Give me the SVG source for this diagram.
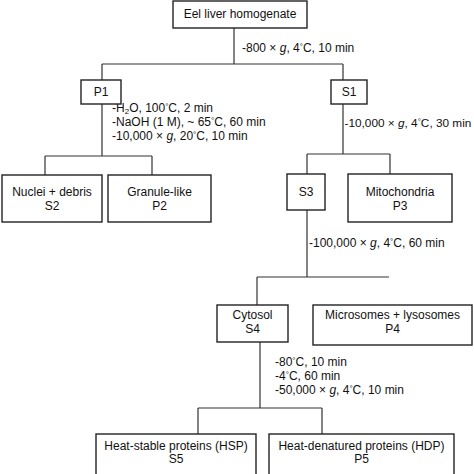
<svg xmlns="http://www.w3.org/2000/svg" width="474" height="474" viewBox="0 0 474 474">
<style>
.box{fill:#fff;stroke:#222;stroke-width:1.4}
.t{font-family:"Liberation Sans",Arial,sans-serif;font-size:12px;fill:#111;text-anchor:middle}
.l{font-family:"Liberation Sans",Arial,sans-serif;font-size:12px;fill:#111}
.c{stroke:#333;stroke-width:1.2;fill:none}
.d{font-size:8px}
.g{font-style:italic}
</style>
<rect width="474" height="474" fill="#fff"/>
<g id="connectors" class="c">
<path d="M234,28V64M102,64H343M102,64V80M343,64V80"/>
<path d="M102,104V156M45,156H152M45,156V175M152,156V175"/>
<path d="M343,104V154M307,154H390M307,154V174M390,154V174"/>
<path d="M307,210V277M257,277H389M257,277V305"/>
<path d="M260,342V408M198,408H322M198,408V434M322,408V434"/>
</g>
<g id="labels" class="l">
<text x="242" y="52">-800 × <tspan class="g">g</tspan>, 4<tspan class="d" dy="-3">°</tspan><tspan dy="3">C, 10 min</tspan></text>
<text x="112" y="112">-H<tspan font-size="8" dy="2">2</tspan><tspan dy="-2">O, 100</tspan><tspan class="d" dy="-3">°</tspan><tspan dy="3">C, 2 min</tspan></text>
<text x="112" y="126">-NaOH (1 M), ~ 65<tspan class="d" dy="-3">°</tspan><tspan dy="3">C, 60 min</tspan></text>
<text x="112" y="140">-10,000 × <tspan class="g">g</tspan>, 20<tspan class="d" dy="-3">°</tspan><tspan dy="3">C, 10 min</tspan></text>
<text x="344.5" y="127" font-size="11.8">-10,000 × <tspan class="g">g</tspan>, 4<tspan class="d" dy="-3">°</tspan><tspan dy="3">C, 30 min</tspan></text>
<text x="309" y="247">-100,000 × <tspan class="g">g</tspan>, 4<tspan class="d" dy="-3">°</tspan><tspan dy="3">C, 60 min</tspan></text>
<text x="275" y="366">-80<tspan class="d" dy="-3">°</tspan><tspan dy="3">C, 10 min</tspan></text>
<text x="275" y="380">-4<tspan class="d" dy="-3">°</tspan><tspan dy="3">C, 60 min</tspan></text>
<text x="275" y="394">-50,000 × <tspan class="g">g</tspan>, 4<tspan class="d" dy="-3">°</tspan><tspan dy="3">C, 10 min</tspan></text>
</g>
<g id="eel"><rect class="box" x="173" y="1" width="134" height="27"/><text class="t" x="240" y="18">Eel liver homogenate</text></g>
<g id="p1"><rect class="box" x="81" y="80" width="40" height="24"/><text class="t" x="101" y="96">P1</text></g>
<g id="s1"><rect class="box" x="331" y="80" width="36" height="24"/><text class="t" x="349" y="96">S1</text></g>
<g id="s2"><rect class="box" x="2" y="175" width="100" height="47"/><text class="t" x="52" y="196">Nuclei + debris</text><text class="t" x="52" y="210">S2</text></g>
<g id="p2"><rect class="box" x="108" y="175" width="103" height="47"/><text class="t" x="159.5" y="196">Granule-like</text><text class="t" x="159.5" y="210">P2</text></g>
<g id="s3"><rect class="box" x="287" y="174" width="38" height="36"/><text class="t" x="306" y="196">S3</text></g>
<g id="p3"><rect class="box" x="348" y="174" width="104" height="48"/><text class="t" x="400" y="196">Mitochondria</text><text class="t" x="400" y="210">P3</text></g>
<g id="s4"><rect class="box" x="217" y="305" width="71" height="37"/><text class="t" x="252.5" y="319">Cytosol</text><text class="t" x="252.5" y="333">S4</text></g>
<g id="p4"><rect class="box" x="313" y="305" width="159" height="40"/><text class="t" x="392.5" y="319">Microsomes + lysosomes</text><text class="t" x="392.5" y="333">P4</text></g>
<g id="s5"><rect class="box" x="96" y="434" width="160" height="50"/><text class="t" x="176" y="450">Heat-stable proteins (HSP)</text><text class="t" x="176" y="463">S5</text></g>
<g id="p5"><rect class="box" x="269" y="434" width="185" height="50"/><text class="t" x="361.5" y="450">Heat-denatured proteins (HDP)</text><text class="t" x="361.5" y="463">P5</text></g>
</svg>
